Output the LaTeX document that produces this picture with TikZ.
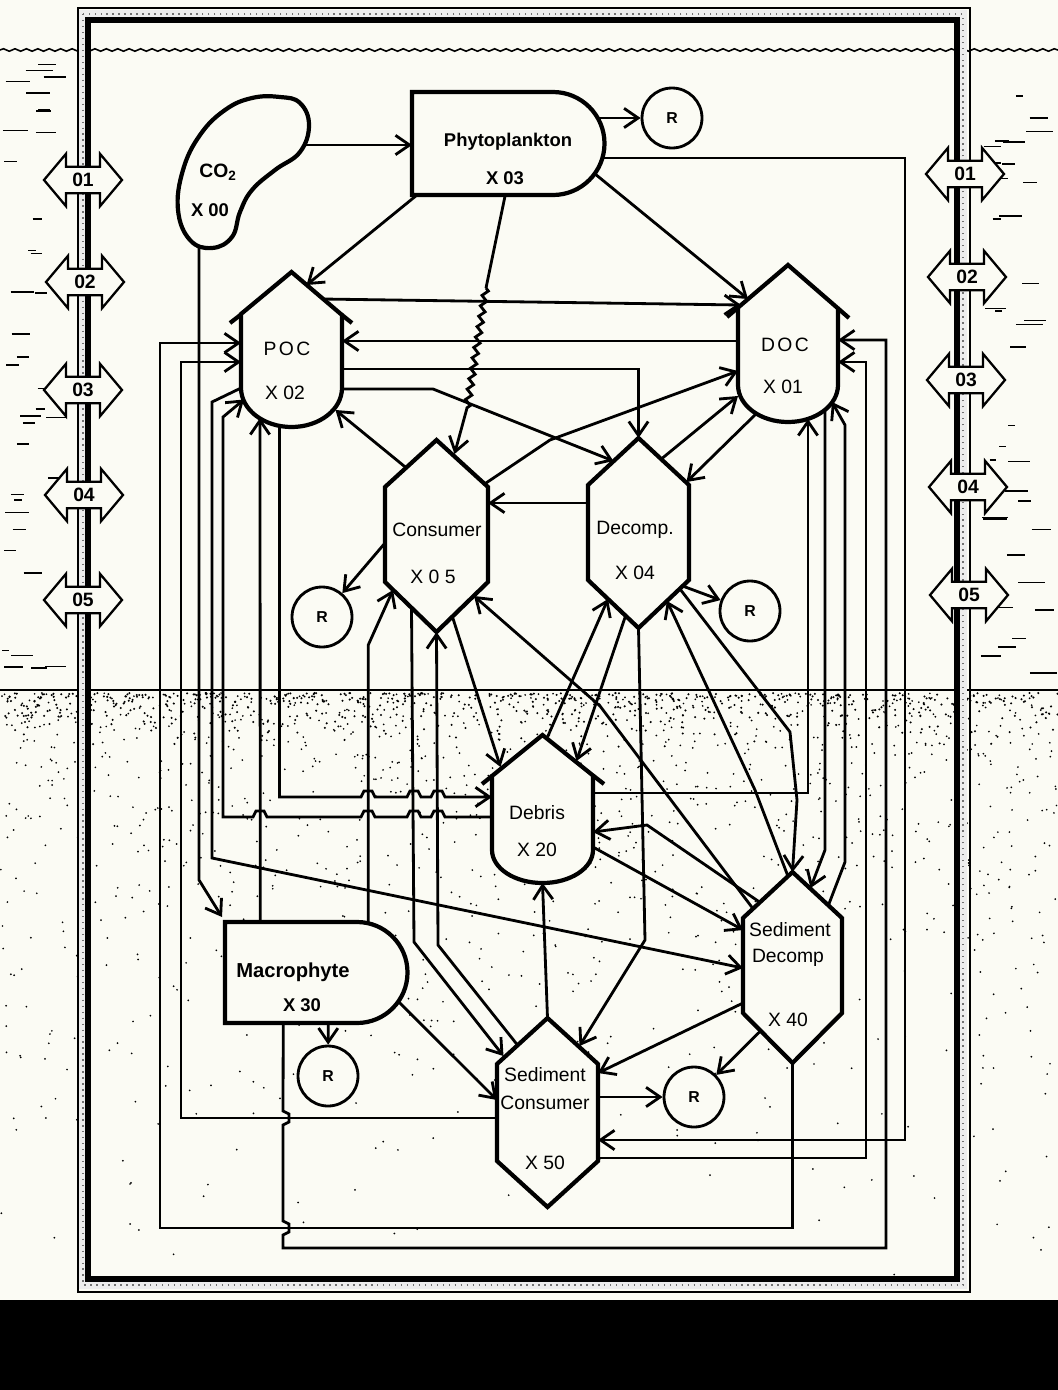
\documentclass[tikz,border=0pt]{standalone}
\usepackage{fontspec}
\setmainfont{Liberation Sans}
\usetikzlibrary{arrows.meta,calc,shapes.arrows,decorations.pathmorphing}
\definecolor{paper}{RGB}{251,251,244}

\begin{document}
\begin{tikzpicture}[x=0.02cm, y=-0.02cm, >={Straight Barb[length=8pt,width=11pt]},
  flow/.style={line width=1.6pt, ->},
  wire/.style={line width=1.6pt},
  comp/.style={line width=2.4pt, fill=paper},
  hull/.style={inner sep=0pt, outer sep=0pt},
  lbl/.style={inner sep=0pt, font=\fontsize{11}{12}\selectfont},
  bold/.style={inner sep=0pt, font=\bfseries\fontsize{10.5}{12}\selectfont},
  resp/.style={circle, draw, line width=1.6pt, fill=paper, minimum size=1.2cm, inner sep=0pt, font=\bfseries\fontsize{9}{10}\selectfont},
  exch/.style={double arrow, draw, fill=paper, line width=1.3pt, minimum height=1.56cm, double arrow head extend=0.26cm, double arrow tip angle=100, inner xsep=2pt, inner ysep=3pt, font=\bfseries\fontsize{11}{12}\selectfont},
  hatch/.style={line width=0.9pt}]
  \useasboundingbox (0,0) rectangle (1058,1390);
  \fill[paper] (0,0) rectangle (1058,1300);
  \fill[black] (0,1300) rectangle (1058,1390);

  % sediment stipple and water hatching
  \pgfmathsetseed{11}
  \foreach \k in {1,...,1300}{
    \pgfmathsetmacro\sx{1058*rnd}
    \pgfmathsetmacro\sy{693+600*rnd*rnd}
    \fill (\sx,\sy) circle[radius=0.55pt];
  }
  \foreach \k in {1,...,700}{
    \pgfmathsetmacro\sx{1058*rnd}
    \pgfmathsetmacro\sy{693+60*rnd*rnd}
    \fill (\sx,\sy) circle[radius=0.65pt];
  }
  \foreach \k in {1,...,38}{
    \pgfmathsetmacro\hy{62+620*rnd}
    \pgfmathsetmacro\hx{2+48*rnd}
    \pgfmathsetmacro\hl{6+22*rnd}
    \draw[hatch] (\hx,\hy) -- ++(\hl,0);
  }
  \foreach \k in {1,...,38}{
    \pgfmathsetmacro\hy{62+620*rnd}
    \pgfmathsetmacro\hx{980+55*rnd}
    \pgfmathsetmacro\hl{6+22*rnd}
    \draw[hatch] (\hx,\hy) -- ++(\hl,0);
  }
  \draw[line width=0.9pt, decorate, decoration={snake, amplitude=0.7pt, segment length=6.5pt}] (0,50) -- (1058,50);
  \draw[line width=1.2pt] (0,690) -- (1058,690);

  % enclosure
  \draw[line width=5pt, black!7] (83,14) rectangle (963,1285);
  \draw[line width=1pt, dash pattern=on 0.8pt off 2.6pt, black!55] (83,14) rectangle (963,1285);
  \draw[line width=1pt] (78,8) rectangle (970,1292);
  \draw[line width=3pt] (88,20) rectangle (957,1279);

  % compartments (anchors)
  \node[hull, minimum width=2.52cm, minimum height=3.02cm] (co2) at (240,172.5) {};
  \node[hull, minimum width=3.85cm, minimum height=2.06cm] (phyto) at (508.25,143.5) {};
  \node[hull, minimum width=2.02cm, minimum height=3.10cm] (poc) at (291.5,349.5) {};
  \node[hull, minimum width=2.00cm, minimum height=3.14cm] (doc) at (788,343.5) {};
  \node[hull, minimum width=2.06cm, minimum height=3.84cm] (cons) at (436.5,536) {};
  \node[hull, minimum width=2.02cm, minimum height=3.80cm] (decomp) at (638.5,533) {};
  \node[hull, minimum width=2.02cm, minimum height=2.96cm] (debris) at (542.5,809) {};
  \node[hull, minimum width=1.98cm, minimum height=3.82cm] (seddec) at (792.5,967.5) {};
  \node[hull, minimum width=2.02cm, minimum height=3.78cm] (sedcons) at (547.5,1112.5) {};
  \node[hull, minimum width=3.65cm, minimum height=2.02cm] (macro) at (316.25,972.5) {};
  \node[resp] (r1) at (672,118) {R};
  \node[resp] (r2) at (322,617) {R};
  \node[resp] (r3) at (750,611) {R};
  \node[resp] (r4) at (328,1076) {R};
  \node[resp] (r5) at (694,1097) {R};

  % flows
  \draw[flow] (co2.east |- 0,145) -- (phyto.west |- 0,145);
  \draw[flow] ($(phyto.east)+(-6,-25.5)$) -- (r1);
  \draw[flow] ($(phyto.south west)+(5,0)$) -- ($(poc.north)+(15,13)$);
  \draw[flow] ($(phyto.east)+(-10,30)$) -- ($(doc.north)+(-40,34)$);
  \draw[flow] ($(phyto.east)+(-2,14.5)$) -| (905,1140) -- (sedcons.east |- 0,1140);
  \draw[wire] ($(phyto.south)+(-3,0)$) -- (486,288);
  \draw[wire, decorate, decoration={zigzag, amplitude=1.6pt, segment length=6pt}] (486,288) -- (467,408);
  \draw[flow] (467,408) -- ($(cons.north)+(18,14)$);
  \draw[flow] ($(poc.north)+(32,27)$) -- ($(doc.north)+(-47,40)$);
  \draw[flow] (doc.west |- 0,341) -- (poc.east |- 0,341);
  \draw[flow] (poc.east |- 0,369) -| (decomp.north);
  \draw[flow] (poc.east |- 0,389) -- (433,389) -- ($(decomp.north)+(-25,23)$);
  \draw[flow] ($(cons.north)+(-30,28)$) -- ($(poc.south)+(44,-17)$);
  \draw[flow] ($(cons.north)+(48,44)$) -- (550,440) -- (doc.west |- 0,371);
  \draw[flow] ($(decomp.north)+(24,20)$) -- (doc.west |- 0,396);
  \draw[flow] ($(doc.south)+(-30,-10)$) -- ($(decomp.north)+(48,44)$);
  \draw[flow] (decomp.west |- 0,503) -- (cons.east |- 0,503);
  \draw[flow] (cons.west |- 0,543) -- (r2);
  \draw[flow] ($(decomp.south)+(44,-42)$) -- (r3);
  \draw[flow] (sedcons.west |- 0,1118) -| (181,362) -- (poc.west |- 0,362);
  \draw[flow] (seddec.south) |- (160,1228) -- (160,343) -- (poc.west |- 0,343);
  \draw[flow] ($(macro.south)+(-33,0)$) -- (283,1111) -- (289,1114) -- (289,1122) -- (283,1125)
    -- (283,1221) -- (289,1224) -- (289,1232) -- (283,1235) |- (886,1248) -- (886,340) -- (doc.east |- 0,340);
  \draw[flow] (sedcons.east |- 0,1158) -| (866,362) -- (doc.east |- 0,362);
  \draw[flow] (debris.east |- 0,793) -| ($(doc.south)+(20,-3)$);
  \draw[flow] ($(doc.south)+(37,-12)$) -- (825,850) -- ($(seddec.north)+(18,16)$);
  \draw[flow] ($(seddec.north)+(36,33)$) -- (845,862) -- (845,425) -- ($(doc.south)+(44,-20)$);
  \draw[flow] (poc.west |- 0,388) -- (212,402) -- (212,858) -- (seddec.west |- 0,968);
  \draw[flow] (debris.west |- 0,817) -- (445,817) -- (442,811) -- (434,811) -- (431,817) -- (421,817) -- (418,811) -- (410,811) -- (407,817)
    -- (375,817) -- (372,811) -- (364,811) -- (361,817) -- (267,817) -- (264,811) -- (256,811) -- (253,817) -| (223,417) -- ($(poc.west)+(3,50)$);
  \draw[flow] ($(poc.south)+(-12,0)$) |- (361,797) -- (364,791) -- (372,791) -- (375,797) -- (407,797) -- (410,791) -- (418,791) -- (421,797)
    -- (431,797) -- (434,791) -- (442,791) -- (445,797) -- (debris.west |- 0,797);
  \draw[flow] ($(macro.north)+(-56,0)$) -- ($(poc.south)+(-31.5,-9)$);
  \draw[flow] ($(macro.north)+(52,0)$) -- (368.25,645) -- ($(cons.south)+(-43.5,-42)$);
  \draw[flow] (199,0 |- co2.south) -- (199,880) -- ($(macro.north west)+(-3,-5)$);
  \draw[flow] ($(cons.south)+(-25,-24)$) -- (414,942) -- ($(sedcons.north)+(-44,38)$);
  \draw[flow] ($(sedcons.north)+(-30,27)$) -- (438,945) -- (cons.south);
  \draw[flow] (decomp.south) -- (645,940) -- ($(sedcons.north)+(32,28)$);
  \draw[flow] (sedcons.north) -- (debris.south);
  \draw[flow] ($(macro.east)+(-9,29)$) -- (sedcons.west |- 0,1100);
  \draw[flow] ($(macro.south)+(12,0)$) -- (r4);
  \draw[flow] (sedcons.east |- r5) -- (r5);
  \draw[flow] ($(seddec.south)+(-32,-32)$) -- (r5);
  \draw[flow] (seddec.west |- 0,1003) -- (sedcons.east |- 0,1073);
  \draw[flow] ($(cons.south)+(16,-15)$) -- ($(debris.north)+(-42,32)$);
  \draw[flow] ($(seddec.north)+(-40,36)$) -- (600,706) -- ($(cons.south)+(37.5,-36)$);
  \draw[flow] ($(seddec.north)+(-33,30)$) -- (647,825) -- (debris.east |- 0,832);
  \draw[flow] (debris.east |- 0,847) -- (seddec.west |- 0,930);
  \draw[flow] ($(decomp.south)+(41.5,-39)$) -- (790,732) -- (797,800) -- (seddec.north);
  \draw[flow] ($(seddec.north)+(-5,3)$) -- (755,790) -- ($(decomp.south)+(28.5,-27)$);
  \draw[flow] ($(debris.north)+(5,2)$) -- ($(decomp.south)+(-30.5,-29)$);
  \draw[flow] ($(decomp.south)+(-13,-12)$) -- ($(debris.north)+(34,26)$);

  % compartment outlines
  \draw[comp] plot[smooth cycle, tension=0.7] coordinates {(280,97) (300,103) (309,125) (300,152) (275,170) (252,190) (240,212) (232,237) (212,248) (190,240) (178,210) (183,170) (200,135) (225,110) (252,98)};
  \draw[comp] (412,92) -- (553,92) .. controls (581.4,92) and (604.5,115.1) .. (604.5,143.5) .. controls (604.5,171.9) and (581.4,195) .. (553,195) -- (412,195) -- cycle;
  \draw[comp] (225,922) -- (357,922) .. controls (384.9,922) and (407.5,944.6) .. (407.5,972.5) .. controls (407.5,1000.4) and (384.9,1023) .. (357,1023) -- (225,1023) -- cycle;
  \draw[comp] (241,314) -- (291.5,272) -- (342,315) -- (342,388) .. controls (342,409.5) and (319.4,427) .. (291.5,427) .. controls (263.6,427) and (241,409.5) .. (241,388) -- cycle;
  \draw[comp] (230,323) -- (241,314.5) (342,315) -- (352,323);
  \draw[comp] (738,307.6) -- (788,265) -- (838,308.4) -- (838,385) .. controls (838,405.4) and (815.6,422) .. (788,422) .. controls (760.4,422) and (738,405.4) .. (738,385) -- cycle;
  \draw[comp] (727,317) -- (738,307.6) (838,308.4) -- (849,318);
  \draw[comp] (492,776) -- (542.5,735) -- (593,775.5) -- (593,850) .. controls (593,868.2) and (570.4,883) .. (542.5,883) .. controls (514.6,883) and (492,868.2) .. (492,850) -- cycle;
  \draw[comp] (482,784) -- (492,776) (593,775.5) -- (604,784);
  \draw[comp] (436.5,440) -- (488,487) -- (488,582) -- (436.5,632) -- (385,582) -- (385,487) -- cycle;
  \draw[comp] (638.5,438) -- (689,485) -- (689,580) -- (638.5,628) -- (588,580) -- (588,485) -- cycle;
  \draw[comp] (792.5,872) -- (842,918) -- (842,1013) -- (792.5,1063) -- (743,1013) -- (743,918) -- cycle;
  \draw[comp] (547.5,1018) -- (598,1064) -- (598,1161) -- (547.5,1207) -- (497,1161) -- (497,1064) -- cycle;

  % labels
  \node[bold, font=\bfseries\fontsize{11}{12}\selectfont] (co2-a) at (218,172) {CO\textsubscript{2}};
  \node[bold] (co2-b) at (210,210) {X 00};
  \node[bold] (phyto-a) at (508,142) {Phytoplankton};
  \node[bold] (phyto-b) at (505,178) {X 03};
  \node[lbl] (poc-a) at (287,349) {\addfontfeatures{LetterSpace=12}POC};
  \node[lbl] (poc-b) at (285,393) {X 02};
  \node[lbl] (doc-a) at (785,345) {\addfontfeatures{LetterSpace=12}DOC};
  \node[lbl] (doc-b) at (783,387) {X 01};
  \node[lbl] (cons-a) at (437,530) {Consumer};
  \node[lbl] (cons-b) at (433,577) {X 0 5};
  \node[lbl] (decomp-a) at (635,530) {Decomp.};
  \node[lbl] (decomp-b) at (635,573) {X 04};
  \node[lbl] (debris-a) at (537,813) {Debris};
  \node[lbl] (debris-b) at (537,850) {X 20};
  \node[lbl] (seddec-a) at (790,930) {Sediment};
  \node[lbl] (seddec-b) at (788,958) {Decomp};
  \node[lbl] (seddec-c) at (788,1020) {X 40};
  \node[lbl] (sedcons-a) at (545,1075) {Sediment};
  \node[lbl] (sedcons-b) at (545,1103) {Consumer};
  \node[lbl] (sedcons-c) at (545,1163) {X 50};
  \node[bold, font=\bfseries\fontsize{11.5}{12}\selectfont] (macro-a) at (293,972) {Macrophyte};
  \node[bold] (macro-b) at (302,1005) {X 30};

  % exchanges across the boundary
  \node[exch] (xl1) at (83,180) {01};
  \node[exch] (xl2) at (85,282) {02};
  \node[exch] (xl3) at (83,390) {03};
  \node[exch] (xl4) at (84,495) {04};
  \node[exch] (xl5) at (83,600) {05};
  \node[exch] (xr1) at (965,174) {01};
  \node[exch] (xr2) at (967,277) {02};
  \node[exch] (xr3) at (966,380) {03};
  \node[exch] (xr4) at (968,487) {04};
  \node[exch] (xr5) at (969,595) {05};
\end{tikzpicture}
\end{document}
